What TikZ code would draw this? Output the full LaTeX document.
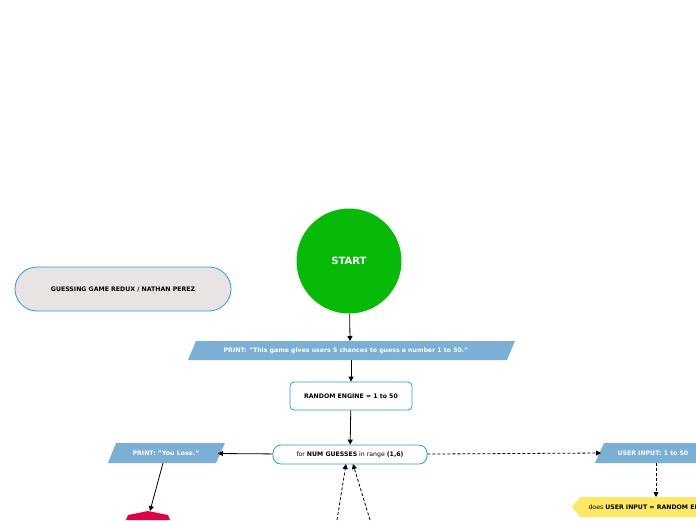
\documentclass[tikz,border=0pt]{standalone}
\usepackage{fontspec}
\setmainfont{DejaVu Sans}
\usetikzlibrary{shapes.geometric,arrows.meta}
\definecolor{pblue}{HTML}{7BAFD4}
\definecolor{bord}{HTML}{2A9BD8}
\definecolor{sgreen}{HTML}{08BA08}
\definecolor{yel}{HTML}{FFE866}
\definecolor{red1}{HTML}{DE0044}
\definecolor{tgray}{HTML}{E8E4E4}
\begin{document}
\begin{tikzpicture}[x=1pt,y=-1pt,
  arr/.style={-{Triangle[length=5pt,width=5pt]},thick},
  darr/.style={-{Triangle[length=5pt,width=5pt]},thick,densely dashed},
  txt/.style={font=\fontsize{6.2}{7}\selectfont\bfseries}]
\useasboundingbox (0,0) rectangle (696,520);
\node[circle,fill=sgreen,minimum size=105pt,inner sep=0,text=white,font=\fontsize{10}{11}\selectfont\bfseries] (start) at (349,261) {START};
\node[draw=bord,line width=0.8pt,fill=tgray,rounded corners=22pt,minimum width=216pt,minimum height=44pt,txt] (title) at (123,289) {GUESSING GAME REDUX / NATHAN PEREZ};
\path[fill=pblue] (196,341) -- (515,341) -- (507,360) -- (188,360) -- cycle;
\node[txt,text=white] (print1) at (346,350.5) {PRINT: "This game gives users 5 chances to guess a number 1 to 50."};
\node[draw=bord,line width=0.8pt,fill=white,rounded corners=4pt,minimum width=122pt,minimum height=28pt,txt] (rng) at (351,396) {RANDOM ENGINE = 1 to 50};
\node[draw=bord,line width=0.8pt,fill=white,rounded corners=8pt,minimum width=154pt,minimum height=19pt,font=\fontsize{6.2}{7}\selectfont] (loop) at (350,454.5) {for \textbf{NUM GUESSES} in range \textbf{(1,6)}};
\path[fill=pblue] (116,443) -- (225,443) -- (216,463) -- (108,463) -- cycle;
\node[txt,text=white] (lose) at (166,453) {PRINT: "You Lose."};
\path[fill=pblue] (604,443) -- (710,443) -- (710,463) -- (595,463) -- cycle;
\node[txt,text=white,anchor=west] (ui) at (614,453) {USER INPUT: 1 to 50};
\path[fill=yel] (580,497) -- (710,497) -- (710,517) -- (580,517) -- (572,507) -- cycle;
\node[font=\fontsize{6.2}{7}\selectfont,anchor=west] (does) at (585,507) {does \textbf{USER INPUT = RANDOM ENGINE}};
\path[fill=red1] (126,520) -- (128,515) -- (148,511) -- (168,515) -- (170,520) -- cycle;
\coordinate (redtop) at (150,511);
\coordinate (b1) at (337,520);
\coordinate (b2) at (370,520);
\draw[arr] (start) -- (350,341);
\draw[arr] (351,360) -- (rng);
\draw[arr] (rng) -- (loop);
\draw[arr] (loop) -- (218,453.5);
\draw[arr] (163,463) -- (redtop);
\draw[darr] (loop) -- (601,453);
\draw[darr] (656,463) -- (656,497);
\draw[darr] (b1) -- (346,464);
\draw[darr] (b2) -- (353,464);
\end{tikzpicture}
\end{document}
